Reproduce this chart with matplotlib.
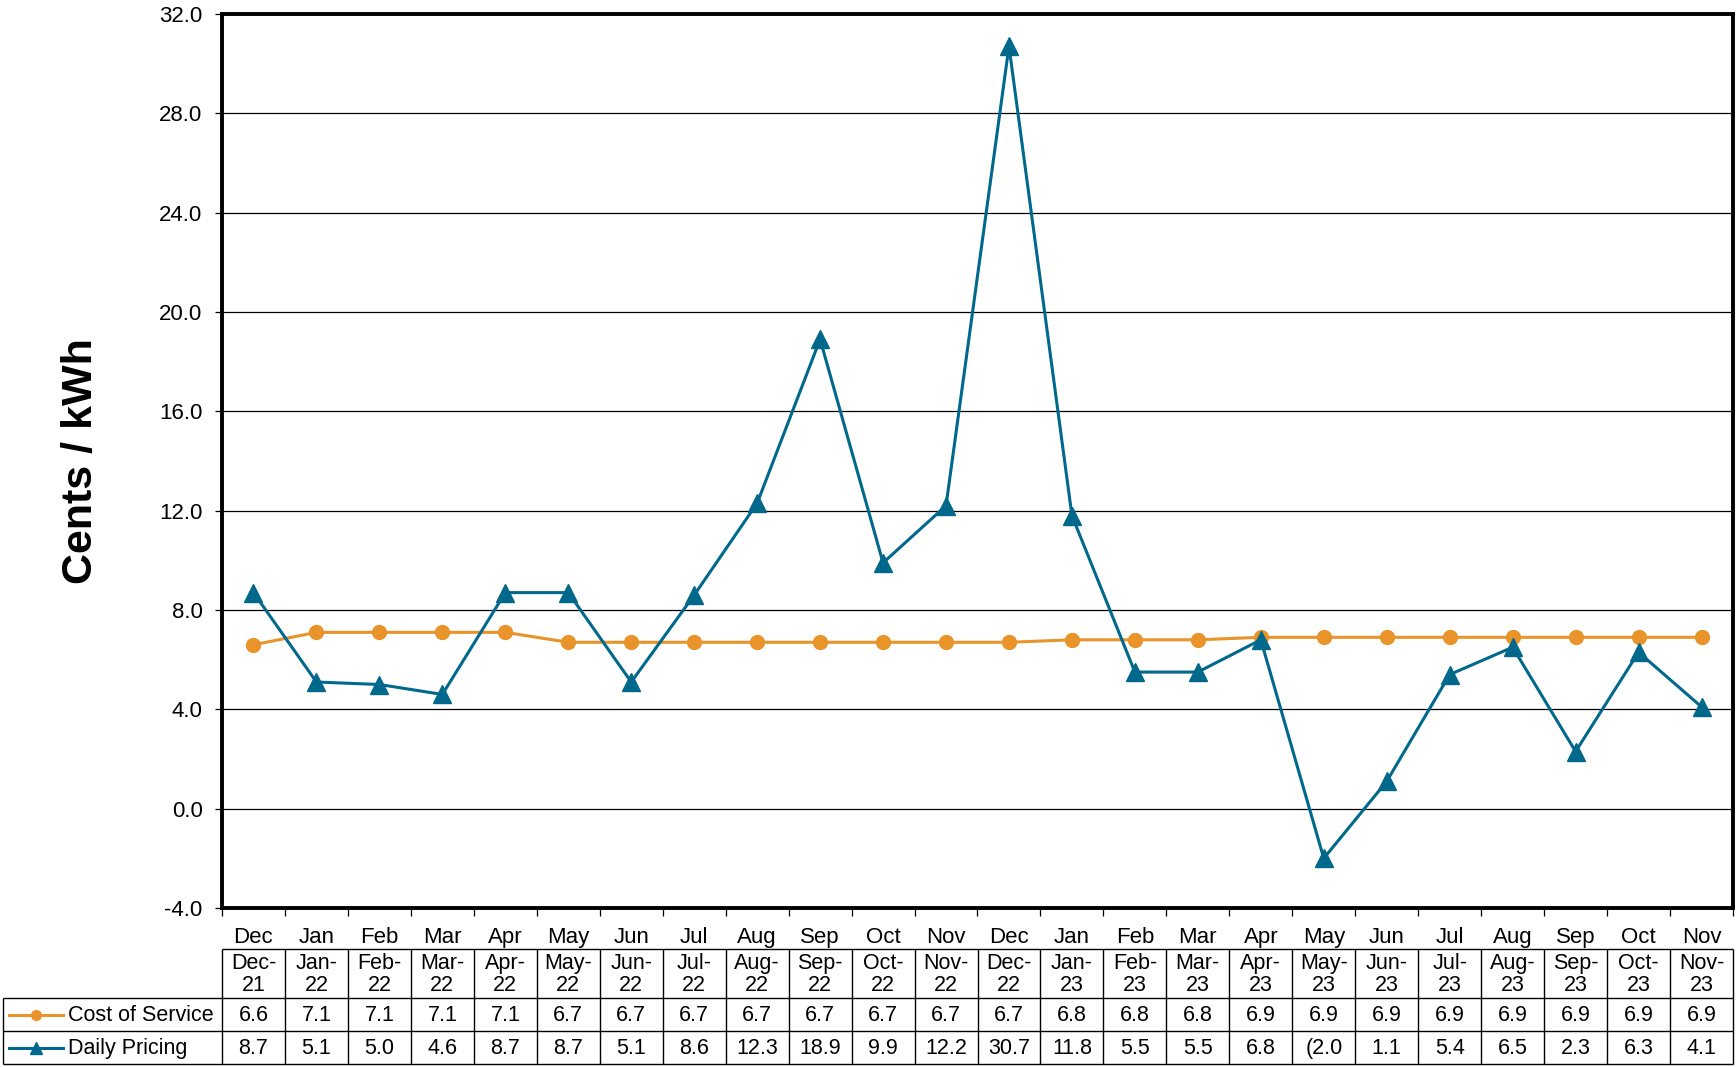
import matplotlib.pyplot as plt
import numpy as np

plt.rcParams['font.family'] = ['Liberation Sans', 'DejaVu Sans']

months = ["Dec", "Jan", "Feb", "Mar", "Apr", "May", "Jun", "Jul", "Aug", "Sep", "Oct", "Nov",
          "Dec", "Jan", "Feb", "Mar", "Apr", "May", "Jun", "Jul", "Aug", "Sep", "Oct", "Nov"]
years = ["21"] + ["22"] * 12 + ["23"] * 11
cost_of_service = [6.6, 7.1, 7.1, 7.1, 7.1, 6.7, 6.7, 6.7, 6.7, 6.7, 6.7, 6.7,
                   6.7, 6.8, 6.8, 6.8, 6.9, 6.9, 6.9, 6.9, 6.9, 6.9, 6.9, 6.9]
daily_pricing = [8.7, 5.1, 5.0, 4.6, 8.7, 8.7, 5.1, 8.6, 12.3, 18.9, 9.9, 12.2,
                 30.7, 11.8, 5.5, 5.5, 6.8, -2.0, 1.1, 5.4, 6.5, 2.3, 6.3, 4.1]
yticks = [-4, 0, 4, 8, 12, 16, 20, 24, 28, 32]

orange = "#E8942A"
teal = "#00688B"

W, H = 1736, 1067
fig = plt.figure(figsize=(W / 100, H / 100), dpi=100)
L, R, T, B = 222, 1733, 14, 908
ax = fig.add_axes([L / W, 1 - B / H, (R - L) / W, (B - T) / H])

x = np.arange(len(months))
ax.plot(x, cost_of_service, color=orange, lw=2.2, marker="o", ms=10, zorder=3)
ax.plot(x, daily_pricing, color=teal, lw=2.2, marker="^", ms=13, zorder=4)

ax.set_xlim(-0.5, len(months) - 0.5)
ax.set_ylim(-4, 32)
ax.set_yticks(yticks)
ax.set_yticklabels([f"{v:.1f}" for v in yticks])
ax.yaxis.grid(True, color="black", lw=0.9)
ax.set_axisbelow(True)
for s in ax.spines.values():
    s.set_linewidth(2.8)

ax.set_xticks(x)
ax.set_xticklabels(months)
ax.set_xticks(np.arange(len(months) + 1) - 0.5, minor=True)
ax.tick_params(axis="x", which="major", length=0, pad=14, labelsize=16)
ax.tick_params(axis="x", which="minor", length=6, width=0.9, direction="out")
ax.tick_params(axis="y", length=5, width=0.9, pad=9, labelsize=16)

ax.set_ylabel("Cents / kWh", fontsize=31, fontweight="bold")
ax.yaxis.set_label_coords((101 - L) / (R - L), 0.5)


def fmt(v):
    return f"({abs(v):.1f}" if v < 0 else f"{v:.1f}"


# data table drawn on an overlay in pixel coordinates
ov = fig.add_axes([0, 0, 1, 1], zorder=-1)
ov.set_xlim(0, W)
ov.set_ylim(H, 0)
ov.axis("off")

tb_left, y_head, y_r1, y_r2, y_bot = 3, 949, 998, 1031, 1064
n = len(months)
col_w = (R - L) / n
bounds = L + col_w * np.arange(n + 1)
lw = 1.0
ov.hlines(y_head, L, R, color="black", lw=lw)
ov.hlines([y_r1, y_r2, y_bot], tb_left, R, color="black", lw=lw)
ov.vlines(bounds, y_head, y_bot, color="black", lw=lw)
ov.vlines(tb_left, y_r1, y_bot, color="black", lw=lw)

centers = bounds[:-1] + col_w / 2
fs = 15.5
for cx, m, yr, c, d in zip(centers, months, years, cost_of_service, daily_pricing):
    ov.text(cx, (y_head + y_r1) / 2 + 1, f"{m}-\n{yr}", ha="center", va="center",
            fontsize=fs, linespacing=1.1)
    ov.text(cx, (y_r1 + y_r2) / 2 + 1, fmt(c), ha="center", va="center", fontsize=fs)
    ov.text(cx, (y_r2 + y_bot) / 2 + 1, fmt(d), ha="center", va="center", fontsize=fs)

for ry, name, col, mk, ms in [((y_r1 + y_r2) / 2, "Cost of Service", orange, "o", 7),
                              ((y_r2 + y_bot) / 2, "Daily Pricing", teal, "^", 8)]:
    ov.plot([9, 63], [ry, ry], color=col, lw=2.2)
    ov.plot([36], [ry], color=col, marker=mk, ms=ms)
    ov.text(68, ry + 1, name, ha="left", va="center", fontsize=fs)

fig.savefig("out.png", dpi=100)
